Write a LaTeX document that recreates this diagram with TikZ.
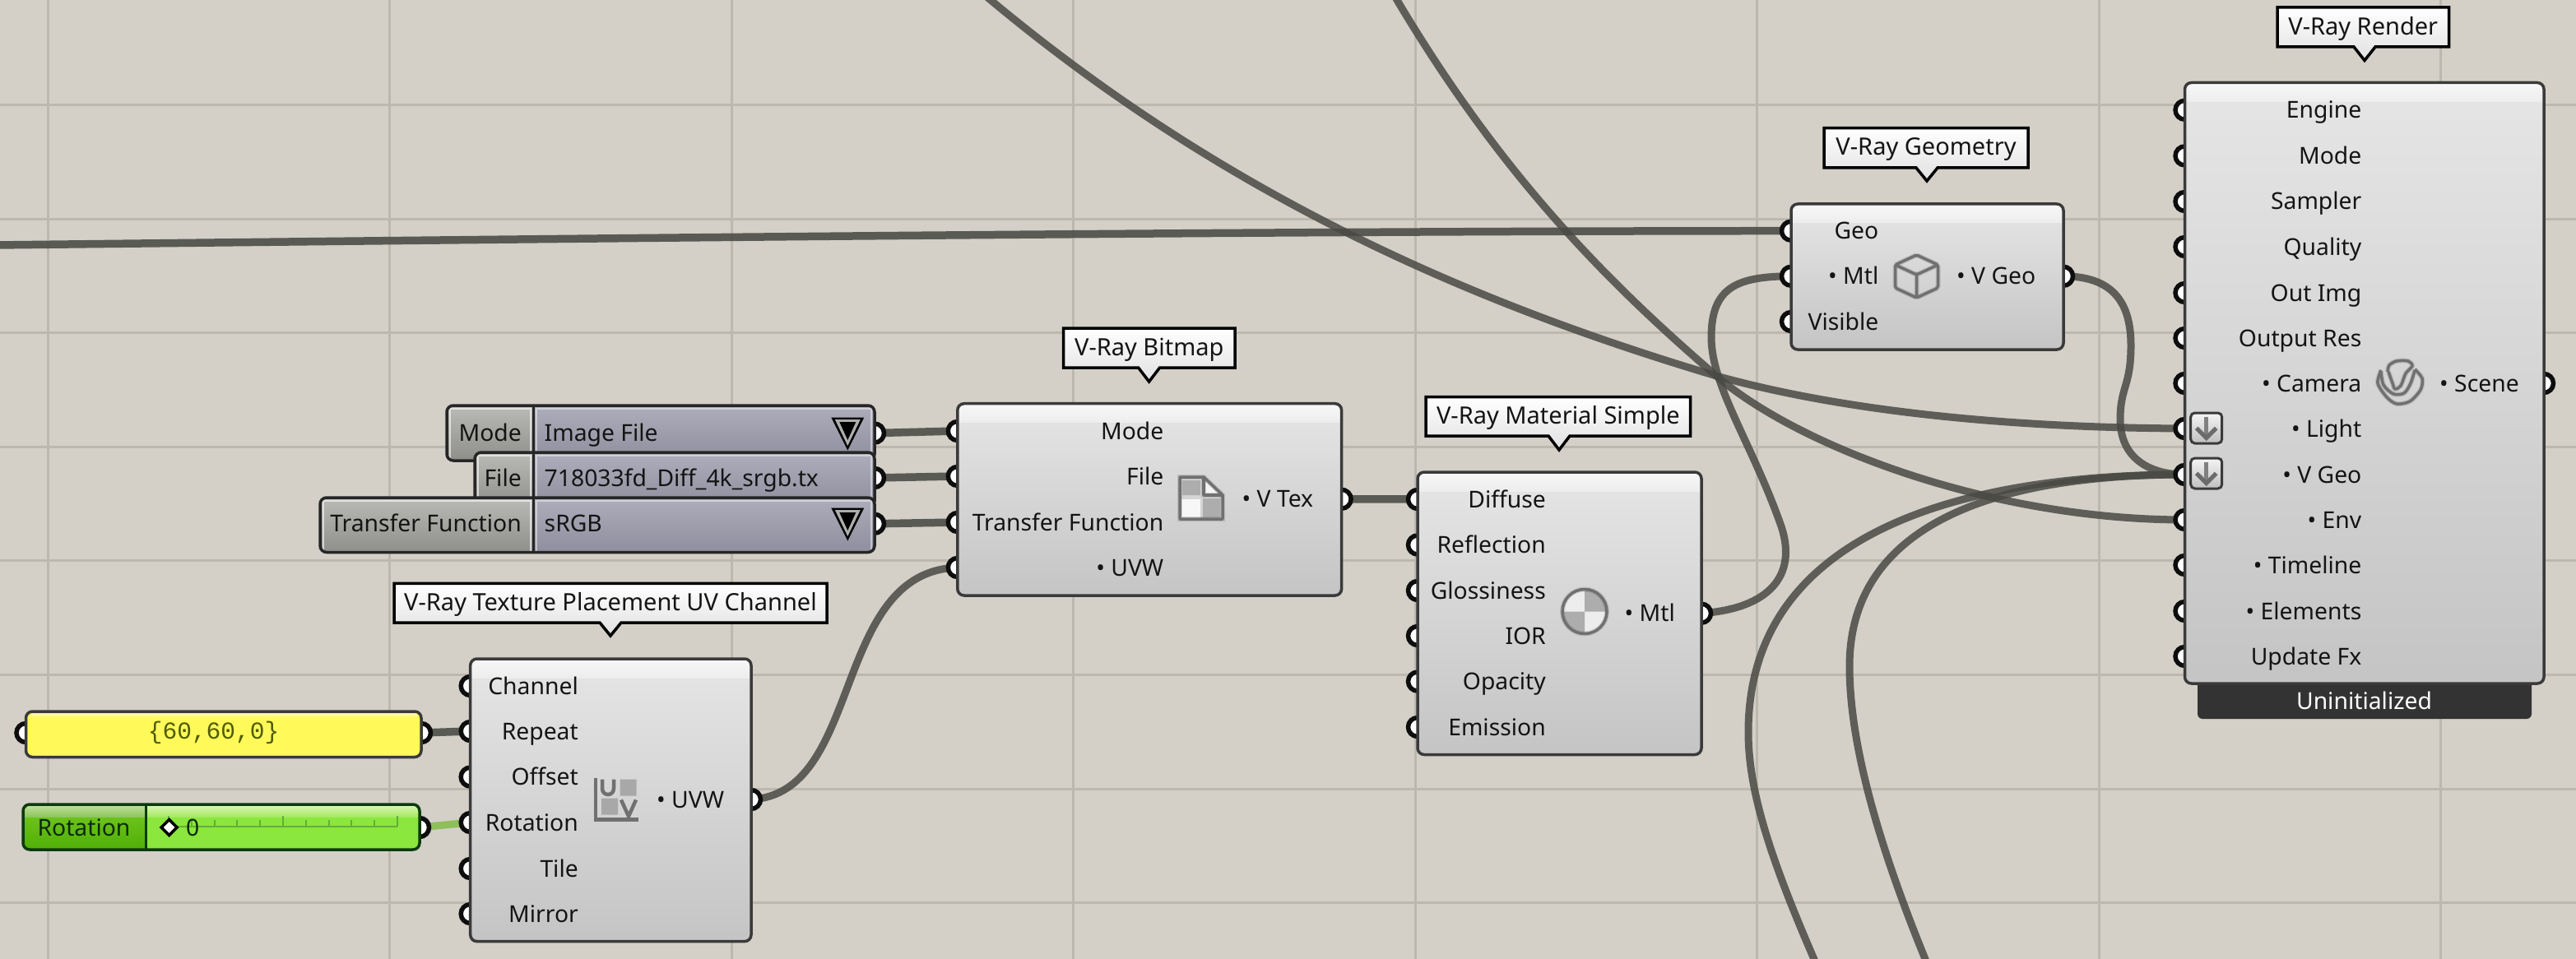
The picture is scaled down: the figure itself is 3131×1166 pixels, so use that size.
\documentclass[tikz,border=0pt]{standalone}
\usepackage{fontspec}
\setmainfont{Noto Sans}
\newfontfamily\ghmono{Liberation Mono}
\usetikzlibrary{fit,calc}
\pgfdeclarelayer{bg}\pgfdeclarelayer{wires}\pgfsetlayers{bg,wires,main}
\definecolor{canvasbg}{HTML}{D4D0C8}
\definecolor{gridc}{HTML}{BCB8AE}
\definecolor{wirec}{HTML}{4A4A44}
\definecolor{edgec}{HTML}{3A3A3A}
\definecolor{iconc}{HTML}{707070}
\definecolor{wiregr}{HTML}{8FBF5A}
\definecolor{labt}{HTML}{BABAB6}\definecolor{labb}{HTML}{8E8E8A}
\definecolor{valt}{HTML}{ADADBB}\definecolor{valb}{HTML}{8E8E9E}
\definecolor{statusc}{HTML}{333333}
\definecolor{panely}{HTML}{FFF95A}\definecolor{panelt}{HTML}{FFFB9A}
\definecolor{paneltxt}{HTML}{4F5C00}
\definecolor{slA}{HTML}{8BE63D}\definecolor{slB}{HTML}{DFF7BC}\definecolor{slC}{HTML}{A4E95F}
\definecolor{slD}{HTML}{6CC21A}\definecolor{slE}{HTML}{4FAF08}\definecolor{slF}{HTML}{C4E2A0}\definecolor{slG}{HTML}{8CC65C}
\definecolor{sliderg}{HTML}{0D3A0D}\definecolor{tickg}{HTML}{64AE3A}\definecolor{slidertxt}{HTML}{0A2A0A}
\newcommand{\gh}{\fontsize{28.3}{32}\selectfont}
\newcommand{\ghtip}{\fontsize{29}{32}\selectfont}
\tikzset{
 gridline/.style={draw=gridc,line width=3pt},
 wire/.style={draw=wirec,line width=9pt,opacity=.85},
 wirefat/.style={draw=wirec,line width=9.5pt,opacity=.88},
 wiregreen/.style={draw=wiregr,line width=9pt},
 port/.style={circle,draw=black!95,fill=white,line width=5.5pt,minimum size=23pt,inner sep=0pt},
 compface/.style={inner sep=0pt,rectangle,rounded corners=8pt,top color=black!10,bottom color=black!23,draw=none},
 compedge/.style={draw=edgec,line width=3.5pt,rounded corners=8pt},
 lbl/.style={inner sep=0pt,font=\gh,text=black!92},
 le/.style={lbl,anchor=base east,yshift=-10pt},
 lw/.style={lbl,anchor=base west,yshift=-10pt},
 tiptext/.style={lbl,font=\ghtip,yshift=-2pt},
 tipshape/.style={draw=black,line width=3.5pt,top color=white,bottom color=black!12,miter limit=10},
 icon/.style={draw=iconc,line width=3.5pt,line join=round,preaction={draw=iconc,opacity=.25,line width=6pt}},
 btn/.style={draw=edgec,line width=3pt,rounded corners=5pt,top color=black!4,bottom color=black!25},
}
% tooltip: name x1 x2 y1 y2 tipx tipy text
\newcommand{\tipbox}[8]{%
 \path[tipshape] (#2,#4)--(#3,#4)--(#3,#5)--({#6+13},#5)--(#6,#7)--({#6-13},#5)--(#2,#5)--cycle;
 \node[tiptext] (#1) at ({(#2+#3)/2},{(#4+#5)/2}) {#8};}
% component: name x1 y1 x2 y2
\newcommand{\compbox}[5]{%
 \node[compface,fit={(#2,#3) (#4,#5)}] (#1) {};
 \begin{scope}
 \clip[rounded corners=8pt] (#2,#3) rectangle (#4,#5);
 \shade[top color=black!3,bottom color=black!7] (#2,#3) rectangle (#4,{#3+23});
 \end{scope}
 \draw[compedge] (#2,#3) rectangle (#4,#5);}
% value list: name x1 xs x2 y1 y2 ymid label value
\newcommand{\vlist}[9]{%
 \begin{scope}
 \clip[rounded corners=8pt] (#2,#5) rectangle (#4,#6);
 \shade[top color=labt,bottom color=labb] (#2,#5) rectangle (#3,#6);
 \shade[top color=valt,bottom color=valb] (#3,#5) rectangle (#4,#6);
 \draw[white,opacity=.6,line width=2pt] ({#2+4},#6) -- ({#2+4},{#5+4}) -- ({#3-3},{#5+4}) -- ({#3-3},#6);
 \draw[white,opacity=.45,line width=2pt] ({#3+4},#6) -- ({#3+4},{#5+4}) -- ({#4-4},{#5+4}) -- ({#4-4},#6);
 \end{scope}
 \node[fit={(#2,#5) (#4,#6)},inner sep=0pt,draw=black!85,line width=3.5pt,rounded corners=8pt] (#1) {};
 \draw[black!85,line width=3pt] (#3,#5) -- (#3,#6);
 \node[le] (#1L) at ({#3-14},#7) {#8};
 \node[lw] (#1V) at ({#3+13.5},#7) {#9};}
\newcommand{\dropmark}[2]{%
 \begin{scope}[shift={(#1,#2)}]
 \fill[black] (-20,-19.5)--(20,-19.5)--(0,20.5)--cycle;
 \fill[black!32] (-15.5,-17)--(15.5,-17)--(0,15)--cycle;
 \fill[black] (-10,-14)--(10,-14)--(0,8)--cycle;
 \end{scope}}
\newcommand{\arrowbtn}[3]{%
 \node[btn,minimum width=38pt,minimum height=37pt,inner sep=0pt] (#1) at (#2,#3) {};
 \begin{scope}[shift={(#2,#3)}]
 \draw[black!50,line width=5pt] (0,-14) -- (0,9);
 \draw[black!58,line width=5pt] (-12,0) -- (0,12) -- (12,0);
 \end{scope}}
\begin{document}
\begin{tikzpicture}[x=1pt,y=-1pt]
\useasboundingbox (0,0) rectangle (3131,1166);
\begin{pgfonlayer}{bg}
 \fill[canvasbg] (0,0) rectangle (3131,1166);
 \foreach \gx in {58,473.5,889,1304.5,1720,2135.5,2551,2966.5}
  \draw[gridline] (\gx,0) -- (\gx,1166);
 \foreach \gy in {127.5,266.1,404.7,543.3,681.9,820.5,959.1,1097.7}
  \draw[gridline] (0,\gy) -- (3131,\gy);
\end{pgfonlayer}

% ---- V-Ray Render
\foreach \n/\y in {Engine/133.8,Mode/189.4,Sampler/245,Quality/300,OutImg/356,OutRes/411,Camera/466,Light/521,VGeo/577,Env/632,Timeline/687,Elements/743,Update/798}
 \node[port] (r\n) at (2655.5,\y) {};
\node[port] (rScene) at (3092,466) {};
\path[fill=statusc,rounded corners=6pt] (2671,800) rectangle (3077,874);
\node[lbl,text=white] (rStatus) at (2873.5,852) {Uninitialized};
\compbox{render}{2655.5}{100.5}{3092}{831}
\foreach \n/\y/\t in {Engine/133.8/Engine,Mode/189.4/Mode,Sampler/245/Sampler,Quality/300/Quality,OutImg/356/Out Img,OutRes/411/Output Res,Camera/466/• Camera,Light/521/• Light,VGeo/577/• V Geo,Env/632/• Env,Timeline/687/• Timeline,Elements/743/• Elements,Update/798/Update Fx}
 \node[le] (rl\n) at (2870.5,\y) {\t};
\node[lw] (rlScene) at (2965,466) {• Scene};
\arrowbtn{btnLight}{2681.7}{520.5}
\arrowbtn{btnVGeo}{2681.7}{575.5}
\tipbox{tipRender}{2768}{2976.5}{9}{57}{2874}{73.5}{V-Ray Render}
\begin{scope}[shift={(2917,466)}]
 \draw[icon] plot[smooth] coordinates {(-23,-16) (-27,0) (-16,17) (-4,25) (12,22) (25,8) (27,-6) (18,-17)};
 \draw[icon] plot[smooth] coordinates {(-23,-14) (-20,2) (-8,13) (5,12) (13,0) (18,-16)};
 \draw[icon] plot[smooth] coordinates {(-14,-14) (-9,0) (-6,7) (1,3) (7,-12) (15,-21) (10,-27) (-4,-27) (-13,-22) (-15,-14)};
\end{scope}

% ---- V-Ray Geometry
\foreach \n/\y in {Geo/280.7,Mtl/335.8,Vis/391} \node[port] (g\n) at (2177,\y) {};
\node[port] (gOut) at (2508,335.8) {};
\compbox{geom}{2177}{248}{2508}{425}
\foreach \n/\y/\t in {Geo/280.7/Geo,Mtl/335.8/• Mtl,Vis/391/Visible}
 \node[le] (gl\n) at (2283.5,\y) {\t};
\node[lw] (glOut) at (2378,335.8) {• V Geo};
\tipbox{tipGeom}{2217}{2465}{155.6}{204}{2342}{220}{V-Ray Geometry}
\begin{scope}[shift={(2329.5,336)},rounded corners=2pt]
 \draw[icon] (0,-26)--(26,-14)--(26,14)--(0,26)--(-26,14)--(-26,-14)--cycle;
 \draw[icon] (-26,-14)--(0,-2)--(26,-14) (0,-2)--(0,26);
\end{scope}

% ---- V-Ray Bitmap
\foreach \n/\y in {Mode/524,File/579,TF/635,UVW/690} \node[port] (b\n) at (1163.8,\y) {};
\node[port] (bOut) at (1630.6,606.8) {};
\compbox{bitmap}{1163.8}{490.7}{1630.6}{724}
\foreach \n/\y/\t in {Mode/524/Mode,File/579/File,TF/635/Transfer Function,UVW/690/• UVW}
 \node[le] (bl\n) at (1414.5,\y) {\t};
\node[lw] (blOut) at (1509.5,606.8) {• V Tex};
\tipbox{tipBitmap}{1292.6}{1501}{399}{447}{1396.6}{464}{V-Ray Bitmap}
\begin{scope}[shift={(1460,606)}]
 \fill[black!3] (-24,1) rectangle (-1,24);
 \fill[black!4] (3,-26)--(26,-4)--(3,-4)--cycle;
 \fill[black!32] (-23,-22) rectangle (-1,-4) (2,0) rectangle (23,23);
 \draw[icon] (-26,-26)--(3,-26)--(26,-4)--(26,25)--(-26,25)--cycle;
 \draw[icon] (3,-26)--(3,-4)--(26,-4);
\end{scope}

% ---- V-Ray Material Simple
\foreach \n/\y in {Dif/607,Ref/662.5,Glo/718,IOR/773,Opa/828.6,Emi/884} \node[port] (m\n) at (1723,\y) {};
\node[port] (mOut) at (2068,745.7) {};
\compbox{material}{1723}{574}{2068}{917.5}
\foreach \n/\y/\t in {Dif/607/Diffuse,Ref/662.5/Reflection,Glo/718/Glossiness,IOR/773/IOR,Opa/828.6/Opacity,Emi/884/Emission}
 \node[le] (ml\n) at (1879,\y) {\t};
\node[lw] (mlOut) at (1974.5,745.7) {• Mtl};
\tipbox{tipMat}{1733}{2054.7}{482.5}{530}{1895}{547}{V-Ray Material Simple}
\begin{scope}[shift={(1926,743.5)}]
 \begin{scope}
 \clip (0,0) circle (27pt);
 \fill[black!7] (-27,-27) rectangle (27,27);
 \fill[black!32] (0,-27) rectangle (27,0) (-27,0) rectangle (0,27);
 \end{scope}
 \draw[icon] (0,0) circle (27pt);
\end{scope}

% ---- V-Ray Texture Placement UV Channel
\foreach \n/\y in {Cha/834,Rep/889,Off/944.6,Rot/1000,Til/1056,Mir/1111} \node[port] (u\n) at (571.7,\y) {};
\node[port] (uOut) at (913,972) {};
\compbox{uvcomp}{571.7}{801}{913}{1144.6}
\foreach \n/\y/\t in {Cha/834/Channel,Rep/889/Repeat,Off/944.6/Offset,Rot/1000/Rotation,Til/1056/Tile,Mir/1111/Mirror}
 \node[le] (ul\n) at (703,\y) {\t};
\node[lw] (ulOut) at (798,972) {• UVW};
\tipbox{tipUV}{479}{1005}{709.4}{757}{742}{773}{V-Ray Texture Placement UV Channel}
\begin{scope}[shift={(749,971.5)}]
 \fill[black!34] (4.5,-24) rectangle (24.5,-4) (-18,-1) rectangle (2,19);
 \draw[draw=iconc,line width=4.5pt] (-25,-26)--(-25,25)--(27,25);
 \draw[draw=iconc,line width=4.5pt] (-17,-24)--(-17,-13) .. controls (-17,-3) and (-3,-3) .. (-3,-13) -- (-3,-24);
 \draw[draw=iconc,line width=4.5pt] (6,1)--(15,21)--(24,1);
\end{scope}

% ---- value lists
\foreach \y/\n in {526.6/pMode,581/pFile,636.8/pTF} \node[port] (\n) at (1063,\y) {};
\vlist{listMode}{543}{648}{1063}{493}{560}{526.6}{Mode}{Image File}
\dropmark{1030.3}{527}
\vlist{listFile}{577}{648}{1063}{550}{617}{581}{File}{718033fd\_Diff\_4k\_srgb.tx}
\vlist{listTF}{389}{648}{1063}{605}{671.5}{636.8}{Transfer Function}{sRGB}
\dropmark{1030.3}{637}

% ---- panel {60,60,0}
\node[port] (yIn) at (31.5,891) {};
\node[port] (yOut) at (512,891) {};
\node[fit={(31.5,865) (512,920.5)},inner sep=0pt,draw=edgec,line width=3.5pt,rounded corners=8pt,fill=panely] (panel) {};
\draw[panelt,line width=3pt] (37,869.5) -- (507,869.5);
\node[lbl,text=paneltxt] (panelTxt) at (259.6,891) {\fontsize{29.5}{32}\ghmono\selectfont\{60,60,0\}};

% ---- slider
\node[port] (sOut) at (510,1006) {};
\begin{scope}
 \clip[rounded corners=8pt] (28,978) rectangle (510,1033);
 \fill[slA] (177,978) rectangle (510,1033);
 \shade[top color=slB,bottom color=slC] (177,978) rectangle (510,993);
 \shade[top color=slD,bottom color=slE] (28,993) rectangle (177,1033);
 \shade[top color=slF,bottom color=slG] (28,978) rectangle (177,993);
\end{scope}
\node[fit={(28,978) (510,1033)},inner sep=0pt,draw=sliderg,line width=3.5pt,rounded corners=8pt] (slider) {};
\draw[sliderg,line width=3pt] (177,978) -- (177,1033);
\node[lbl,text=slidertxt] (sName) at (102,1006) {Rotation};
\draw[tickg,line width=2pt] (205,1005) -- (483,1005);
\foreach \k in {1,2,3,4,6,7,8,9} \draw[tickg,line width=2pt] ({205+\k*27.8},1005) -- ({205+\k*27.8},997);
\foreach \k in {0,5,10} \draw[tickg,line width=2pt] ({205+\k*27.8},1005) -- ({205+\k*27.8},992);
\draw[black,line width=3.5pt,fill=white] (205.7,996.5)--(215.2,1006)--(205.7,1015.5)--(196.2,1006)--cycle;
\node[lw,text=slidertxt] (sVal) at (226,1006) {0};

% ---- free wire ends
\coordinate (geoSrc) at (-5,298);
\coordinate (lightSrc) at (1198,-5);
\coordinate (envSrc) at (1695,-5);
\coordinate (vgeoSrcA) at (2207,1171);
\coordinate (vgeoSrcB) at (2342,1171);

% ---- wires
\begin{pgfonlayer}{wires}
 \draw[wirefat] (geoSrc) .. controls (700,290) and (1500,281) .. (gGeo.center);
 \draw[wire] (lightSrc) .. controls (1490,240) and (1791,369) .. (2086,457) .. controls (2240,500) and (2440,520) .. (rLight.center);
 \draw[wire] (envSrc) .. controls (1825,215) and (1956,345) .. (2086,457) .. controls (2186,543) and (2420,632) .. (rEnv.center);
 \draw[wire] (mOut.center) .. controls (2150,740) and (2185,700) .. (2165,640) .. controls (2130,540) and (2080,470) .. (2080,410) .. controls (2080,350) and (2110,336) .. (gMtl.center);
 \draw[wire] (gOut.center) .. controls (2570,336) and (2590,370) .. (2590,420) .. controls (2590,470) and (2577,470) .. (2577,510) .. controls (2577,555) and (2610,577) .. (rVGeo.center);
 \draw[wire] (vgeoSrcA) .. controls (2150,1040) and (2125,960) .. (2125,890) .. controls (2125,640) and (2400,577) .. (rVGeo.center);
 \draw[wire] (vgeoSrcB) .. controls (2280,1020) and (2248,900) .. (2248,810) .. controls (2248,640) and (2420,577) .. (rVGeo.center);
 \draw[wire] (uOut.center) .. controls (1050,965) and (1010,695) .. (bUVW.center);
 \draw[wirefat] (pMode.center) -- (bMode.center);
 \draw[wirefat] (pFile.center) -- (bFile.center);
 \draw[wirefat] (pTF.center) -- (bTF.center);
 \draw[wirefat] (bOut.center) -- (mDif.center);
 \draw[wirefat] (yOut.center) -- (uRep.center);
 \draw[wiregreen] (sOut.center) -- (uRot.center);
\end{pgfonlayer}
\end{tikzpicture}
\end{document}
